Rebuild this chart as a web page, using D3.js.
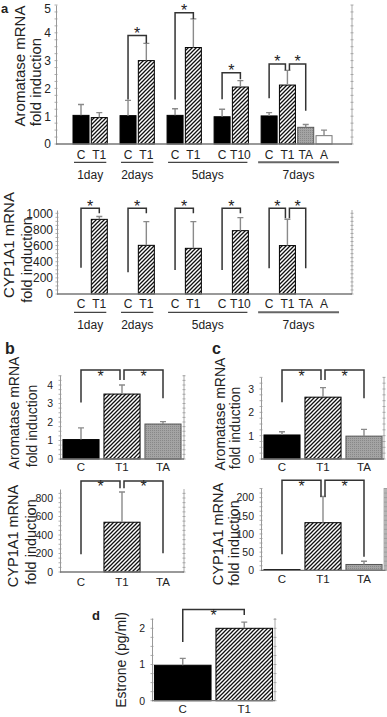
<!DOCTYPE html>
<html>
<head>
<meta charset="utf-8">
<script src="https://cdn.jsdelivr.net/npm/d3@7"></script>
<style>
  body { margin: 0; background: #fff; }
  svg { display: block; }
  text { font-family: "Liberation Sans", Arial, sans-serif; fill: #222; }
</style>
</head>
<body>
<div id="chart"></div>
<script>
// ---- panel a : time course ----
var aCats    = ["C","T1","C","T1","C","T1","C","T10","C","T1","TA","A"];
var aGroupOf = [0,0,1,1,2,2,3,3,4,4,4,4];   // pair / group each bar sits in
var aDays    = ["1day","2days","5days","7days"];
var aDayOf   = [0,0,1,1,2,2,2,2,3,3,3,3];
var aAroma    = [1.03,0.95,1.02,3.0,1.03,3.47,0.98,2.05,1.01,2.12,0.6,0.3];
var aAromaErr = [1.42,1.13,1.57,3.62,1.27,4.5,1.25,2.28,1.13,2.65,0.7,0.5];
var aCyp      = [0,925,0,603,0,566,0,785,0,600,0,0];
var aCypErr   = [0,960,0,897,0,897,0,946,0,926,0,0];
// significance brackets: [from bar, to bar, top, left leg end, right leg end]
var aAromaSig = [[2,3,3.9,1.6,3.62],[4,5,4.72,1.6,4.5],[6,7,2.56,1.61,2.33],[8,9,2.88,1.65,2.65],[9,10,2.88,2.65,1.2]];
var aCypSig   = [[0,1,1062,326,1000],[2,3,1062,269,1000],[4,5,1062,297,1000],[6,7,1062,297,1000],[8,9,1062,318,940],[9,10,1062,940,318]];
var aAromaTicks = [0,1,2,3,4,5];
var aCypTicks   = [0,200,400,600,800,1000];

// ---- panels b, c ----
var bcCats = ["C","T1","TA"];
var bAroma = [1.05,3.51,1.89], bAromaErr = [1.68,4.0,2.02];
var bCyp   = [0,538,0],        bCypErr   = [0,865,0];
var cAroma = [1.03,2.65,0.98], cAromaErr = [1.17,3.06,1.27];
var cCyp   = [2,131,16],       cCypErr   = [2,203,25];
var bAromaSig = [[0,1,4.81,3.06,4.27],[1,2,4.81,4.27,3.28]];
var bCypSig   = [[0,1,984,191,905],[1,2,984,905,202]];
var cAromaSig = [[0,1,3.81,2.43,3.39],[1,2,3.81,3.39,2.6]];
var cCypSig   = [[0,1,248,44,202],[1,2,248,202,37]];
var bAromaTicks = [0,1,2,3,4];
var bCypTicks   = [0,200,400,600,800];
var cAromaTicks = [0,1,2,3];
var cCypTicks   = [0,50,100,150,200];

// ---- panel d ----
var dCats = ["C","T1"];
var dEstrone = [0.98,2.0], dEstroneErr = [1.17,2.17];
var dSig = [[0,1,2.52,1.62,2.37]];
var dTicks = [0,1,2];

var W = 387, H = 717;
var svg = d3.select("#chart").append("svg").attr("width", W).attr("height", H);

var defs = svg.append("defs");
var pat = defs.append("pattern").attr("id","hatch").attr("patternUnits","userSpaceOnUse")
  .attr("width",4).attr("height",4);
pat.append("rect").attr("width",4).attr("height",4).attr("fill","#fff");
pat.append("path").attr("d","M-1,1 l2,-2 M0,4 l4,-4 M3,5 l2,-2")
  .attr("stroke","#111").attr("stroke-width",1.3);
var dots = defs.append("pattern").attr("id","dots").attr("patternUnits","userSpaceOnUse")
  .attr("width",2).attr("height",2);
dots.append("rect").attr("width",2).attr("height",2).attr("fill","#a4a4a4");
dots.append("rect").attr("width",1).attr("height",1).attr("fill","#888");

function fillFor(cat) {
  if (cat === "C") return "#000";
  if (cat === "TA") return "url(#dots)";
  if (cat === "A") return "#fff";
  return "url(#hatch)";
}

function drawPanel(p) {
  var y = d3.scaleLinear().domain([0, p.top]).range([p.y0, p.yTop]);
  var g = svg.append("g");

  // right frame
  g.append("line").attr("x1", p.right).attr("x2", p.right)
    .attr("y1", y(0)).attr("y2", p.yTop)
    .attr("stroke", p.rightColor || "#aaa").attr("stroke-width", p.rightWidth || 1);

  // minor ticks on both frames
  var minor = d3.range(0, p.top + 1e-9, p.minor);
  [p.left, p.right].forEach(function(xx) {
    g.selectAll(null).data(minor).enter().append("line")
      .attr("x1", xx - 1.5).attr("x2", xx + 1.5)
      .attr("y1", function(d) { return y(d); }).attr("y2", function(d) { return y(d); })
      .attr("stroke", "#999").attr("stroke-width", 0.8);
  });

  var ax = g.append("g").attr("transform", "translate(" + p.left + ",0)")
    .call(d3.axisLeft(y).tickValues(p.ticks).tickFormat(d3.format("d"))
      .tickSize(0).tickSizeOuter(0).tickPadding(p.pad));
  ax.select(".domain").attr("stroke", "#999");
  ax.selectAll("text").style("font-size", p.tickFont + "px")
    .style("font-family", "'Liberation Sans', Arial, sans-serif").attr("fill", "#222");
  // keep a label sitting on the very top edge inside the page
  ax.selectAll(".tick").filter(function(d) { return y(d) < 8; })
    .select("text").attr("dy", "0.6em");

  // bars
  var bars = p.bars.filter(function(b) { return b.v > 0; });
  g.selectAll(null).data(bars).enter().append("rect")
    .attr("x", function(b) { return b.x; })
    .attr("y", function(b) { return y(b.v); })
    .attr("width", function(b) { return b.w; })
    .attr("height", function(b) { return y(0) - y(b.v); })
    .attr("fill", function(b) { return fillFor(b.cat); })
    .attr("stroke", function(b) { return b.cat === "A" ? "#777" : (b.cat === "TA" ? "#555" : "#000"); })
    .attr("stroke-width", 1);

  // error bars
  var errs = p.bars.filter(function(b) { return b.e > b.v; });
  g.selectAll(null).data(errs).enter().append("path")
    .attr("d", function(b) {
      var cx = b.x + b.w / 2;
      return "M" + cx + "," + y(b.v) + "V" + y(b.e) + "M" + (cx - 3) + "," + y(b.e) + "H" + (cx + 3);
    })
    .attr("fill", "none").attr("stroke", "#8a8a8a").attr("stroke-width", 1.4);

  // baseline
  g.append("line").attr("x1", p.left).attr("x2", p.right)
    .attr("y1", y(0)).attr("y2", y(0)).attr("stroke", "#777").attr("stroke-width", 1.3);

  // significance brackets
  var froms = p.sig.map(function(s) { return s[0]; });
  var tos = p.sig.map(function(s) { return s[1]; });
  p.sig.forEach(function(s) {
    var a = p.bars[s[0]], b = p.bars[s[1]];
    var xl = a.x + a.w / 2 + (tos.indexOf(s[0]) >= 0 ? 2 : 0);
    var xr = b.x + b.w / 2 - (froms.indexOf(s[1]) >= 0 ? 2 : 0);
    g.append("path")
      .attr("d", "M" + xl + "," + y(s[3]) + "V" + y(s[2]) + "H" + xr + "V" + y(s[4]))
      .attr("fill", "none").attr("stroke", "#333").attr("stroke-width", 1.5);
    g.append("text").attr("x", (xl + xr) / 2).attr("y", y(s[2]) + p.starDy)
      .attr("text-anchor", "middle").style("font-size", "16px").text("*");
  });

  // category labels
  g.selectAll(null).data(p.bars).enter().append("text")
    .attr("x", function(b) { return b.x + b.w / 2; })
    .attr("y", y(0) + p.catDy)
    .attr("text-anchor", "middle").style("font-size", p.catFont + "px")
    .text(function(b) { return b.cat; });

  // y titles
  p.titles.forEach(function(t) {
    g.append("text").attr("transform", "translate(" + t[1] + "," + t[2] + ") rotate(-90)")
      .attr("text-anchor", "middle").style("font-size", t[3] + "px").text(t[0]);
  });
  return y;
}

// ---- panel a layout ----
var slot = d3.scaleLinear().domain([0, 1]).range([73, 91.3]);
function aBars(vals, errs) {
  return aCats.map(function(c, i) {
    return { cat: c, x: slot(i + 0.57 * aGroupOf[i]), w: 16, v: vals[i], e: errs[i] };
  });
}
function drawDays(bars, base) {
  aDays.forEach(function(day, k) {
    var mine = bars.filter(function(b, i) { return aDayOf[i] === k; });
    var x1 = mine[0].x + 1, x2 = mine[mine.length - 1].x + mine[0].w + (k === 3 ? 7 : -1);
    if (k === 3) x1 = mine[0].x - 3;
    svg.append("line").attr("x1", x1).attr("x2", x2).attr("y1", base + 18.3).attr("y2", base + 18.3)
      .attr("stroke", k === 3 ? "#666" : "#444").attr("stroke-width", k === 3 ? 2 : 1.2);
    svg.append("text").attr("x", (x1 + x2) / 2).attr("y", base + 35.3)
      .attr("text-anchor", "middle").style("font-size", "12px").text(day);
  });
}

var topBars = aBars(aAroma, aAromaErr);
drawPanel({ left: 56, right: 352, y0: 144, yTop: 5, top: 5, ticks: aAromaTicks, minor: 0.25,
  pad: 5, tickFont: 12, bars: topBars, sig: aAromaSig, starDy: 3.5, catDy: 15.3, catFont: 12,
  titles: [["Aromatase mRNA", 25, 66, 15], ["fold induction", 41, 82, 15]] });
drawDays(topBars, 144);

var cypBars = aBars(aCyp, aCypErr);
drawPanel({ left: 57, right: 352, y0: 294, yTop: 210, top: (294 - 210) / 0.0807, ticks: aCypTicks, minor: 50,
  pad: 4, tickFont: 12, bars: cypBars, sig: aCypSig, starDy: 4, catDy: 14.3, catFont: 12,
  titles: [["CYP1A1 mRNA", 14, 245, 15], ["fold induction", 32, 260, 14.5]] });
drawDays(cypBars, 294);

// ---- panels b, c, d ----
function bandBars(cats, vals, errs, range, pin, pout) {
  var x = d3.scaleBand().domain(cats).range(range).paddingInner(pin).paddingOuter(pout);
  return cats.map(function(c, i) { return { cat: c, x: x(c), w: x.bandwidth(), v: vals[i], e: errs[i] }; });
}

drawPanel({ left: 60, right: 184, y0: 459, yTop: 375, top: (459 - 375) / 18.5, ticks: bAromaTicks, minor: 0.25,
  pad: 7, tickFont: 10.5, bars: bandBars(bcCats, bAroma, bAromaErr, [60.5, 183.5], 0.12, 0.06),
  sig: bAromaSig, starDy: 11.5, catDy: 12, catFont: 11.5,
  titles: [["Aromatase mRNA", 18.5, 413, 14], ["fold induction", 37, 426, 14]] });
drawPanel({ left: 60, right: 184, y0: 572, yTop: 489, top: (572 - 489) / 0.0925, ticks: bCypTicks, minor: 50,
  pad: 7, tickFont: 10.5, bars: bandBars(bcCats, bCyp, bCypErr, [60.5, 183.5], 0.12, 0.06),
  sig: bCypSig, starDy: 11.5, catDy: 13.7, catFont: 11.5,
  titles: [["CYP1A1 mRNA", 17.5, 536, 14.5], ["fold induction", 35.5, 542, 14.5]] });

drawPanel({ left: 261, right: 384, y0: 459, yTop: 377, top: (459 - 377) / 23.33, ticks: cAromaTicks, minor: 0.25,
  pad: 7, tickFont: 10.5, bars: bandBars(bcCats, cAroma, cAromaErr, [261.5, 384.5], 0.12, 0.06),
  sig: cAromaSig, starDy: 11.5, catDy: 12, catFont: 11.5,
  titles: [["Aromatase mRNA", 225, 414, 14], ["fold induction", 240, 428, 14]] });
drawPanel({ left: 261, right: 385.5, rightWidth: 4, rightColor: "#b4b4b4", y0: 570.3, yTop: 488,
  top: (570.3 - 488) / 0.3635, ticks: cCypTicks, minor: 12.5,
  pad: 7, tickFont: 10.5, bars: bandBars(bcCats, cCyp, cCypErr, [261.5, 384.5], 0.12, 0.06),
  sig: cCypSig, starDy: 11.5, catDy: 13, catFont: 11.5,
  titles: [["CYP1A1 mRNA", 223, 534, 14.5], ["fold induction", 238.5, 543, 14.5]] });

drawPanel({ left: 152, right: 275, y0: 700.7, yTop: 618, top: (700.7 - 618) / 36.2, ticks: dTicks, minor: 0.25,
  pad: 7, tickFont: 10.5, bars: bandBars(dCats, dEstrone, dEstroneErr, [152, 275], 0.08, 0.04),
  sig: dSig, starDy: 11.5, catDy: 12.5, catFont: 11.5,
  titles: [["Estrone (pg/ml)", 126, 660, 14]] });

// panel letters
[["a", 1, 13, 13], ["b", 5, 354, 16], ["c", 212, 354, 16], ["d", 92, 620, 13]].forEach(function(l) {
  svg.append("text").attr("x", l[1]).attr("y", l[2]).style("font-size", l[3] + "px")
    .style("font-weight", "bold").text(l[0]);
});
</script>
</body>
</html>
